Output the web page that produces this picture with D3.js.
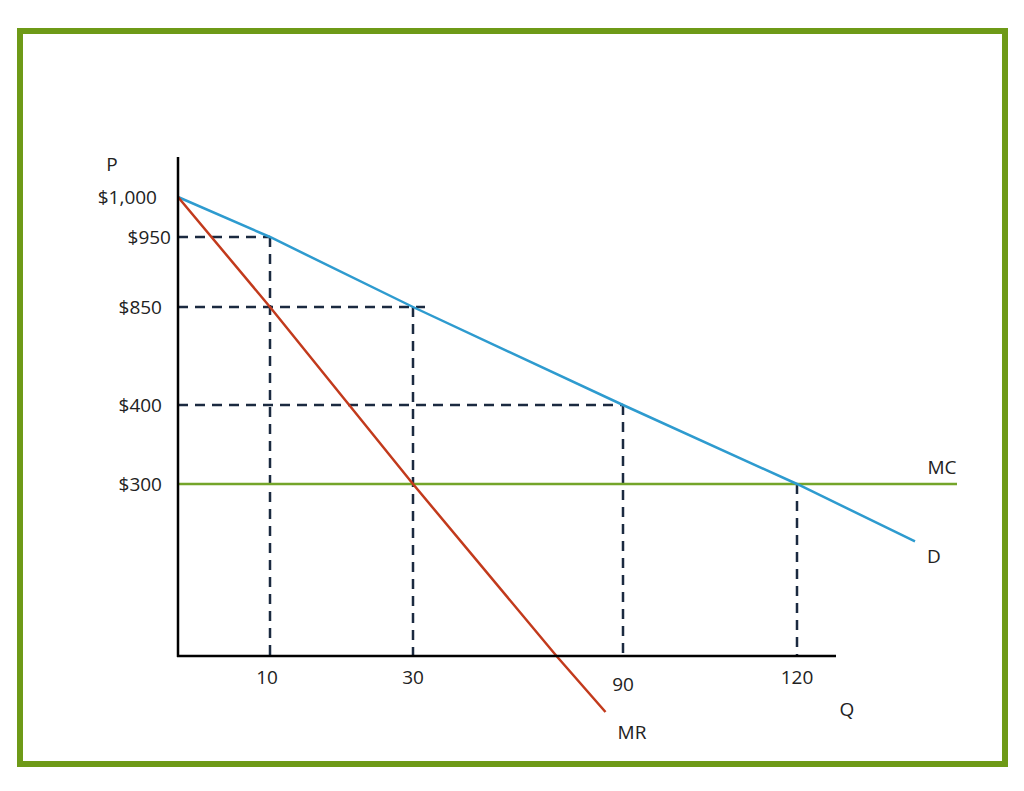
<!DOCTYPE html><html><head><meta charset="utf-8">
<script src="https://cdn.jsdelivr.net/npm/d3@7"></script>
<style>body{margin:0;background:#fff}text{font-family:"Open Sans",sans-serif;font-size:19px;fill:#222}</style></head><body>
<script>
const qTicks=[10,30,90,120];
const pTicks=[1000,950,850,400,300];
const pLabels=["$1,000","$950","$850","$400","$300"];
const demand=[[0,1000],[10,950],[30,850],[90,400],[120,300],[140,200]];
const mr=[[0,1000],[10,850],[30,300],[71,0],[85,-100]];
const mc=300, mcEndQ=145;
const dashPts=[[10,950],[30,850],[90,400],[120,300]];

const svg=d3.select("body").append("svg").attr("width",1024).attr("height",791);
svg.append("rect").attr("x",20).attr("y",31).attr("width",985).attr("height",733).attr("fill","none").attr("stroke","#6e9a17").attr("stroke-width",6);
const x=d3.scaleLinear().domain([0,10,30,90,120,140,145]).range([178,270,413,623,797,915,957]);
const y=d3.scaleLinear().domain([1000,950,850,400,300,0,-100]).range([197,237,307,405,484,656,712]);
const line=d3.line().x(d=>x(d[0])).y(d=>y(d[1]));
const dash="10,7";
dashPts.forEach(([q,p],i)=>{
  if(i<3) svg.append("line").attr("x1",x(0)).attr("x2",x(q)+(i==1?12:0)).attr("y1",y(p)).attr("y2",y(p)).attr("stroke","#1b2a40").attr("stroke-width",2.5).attr("stroke-dasharray",dash);
  svg.append("line").attr("x1",x(q)).attr("x2",x(q)).attr("y1",y(p)).attr("y2",y(0)).attr("stroke","#1b2a40").attr("stroke-width",2.5).attr("stroke-dasharray",dash);
});
svg.append("line").attr("x1",x(0)).attr("x2",x(mcEndQ)).attr("y1",y(mc)).attr("y2",y(mc)).attr("stroke","#74a52a").attr("stroke-width",2.5);
svg.append("path").attr("d",line(demand)).attr("fill","none").attr("stroke","#2e9bcf").attr("stroke-width",2.5);
svg.append("path").attr("d",line(mr)).attr("fill","none").attr("stroke","#c23a1c").attr("stroke-width",2.5);
svg.append("line").attr("x1",178).attr("x2",178).attr("y1",157).attr("y2",657).attr("stroke","#000").attr("stroke-width",2.5);
svg.append("line").attr("x1",177).attr("x2",836).attr("y1",656).attr("y2",656).attr("stroke","#000").attr("stroke-width",2.5);
pTicks.forEach((p,i)=>svg.append("text").attr("x",i==0?157:(i==1?171:162)).attr("y",y(p)+7).attr("text-anchor","end").text(pLabels[i]));
qTicks.forEach(q=>svg.append("text").attr("x",x(q)-(q==10?3:0)).attr("y",q==90?691:684).attr("text-anchor","middle").text(q));
svg.append("text").attr("x",112).attr("y",171).attr("text-anchor","middle").text("P");
svg.append("text").attr("x",847).attr("y",716).attr("text-anchor","middle").text("Q");
svg.append("text").attr("x",632).attr("y",739).attr("text-anchor","middle").text("MR");
svg.append("text").attr("x",934).attr("y",563).attr("text-anchor","middle").text("D");
svg.append("text").attr("x",942).attr("y",474).attr("text-anchor","middle").text("MC");
</script></body></html>
